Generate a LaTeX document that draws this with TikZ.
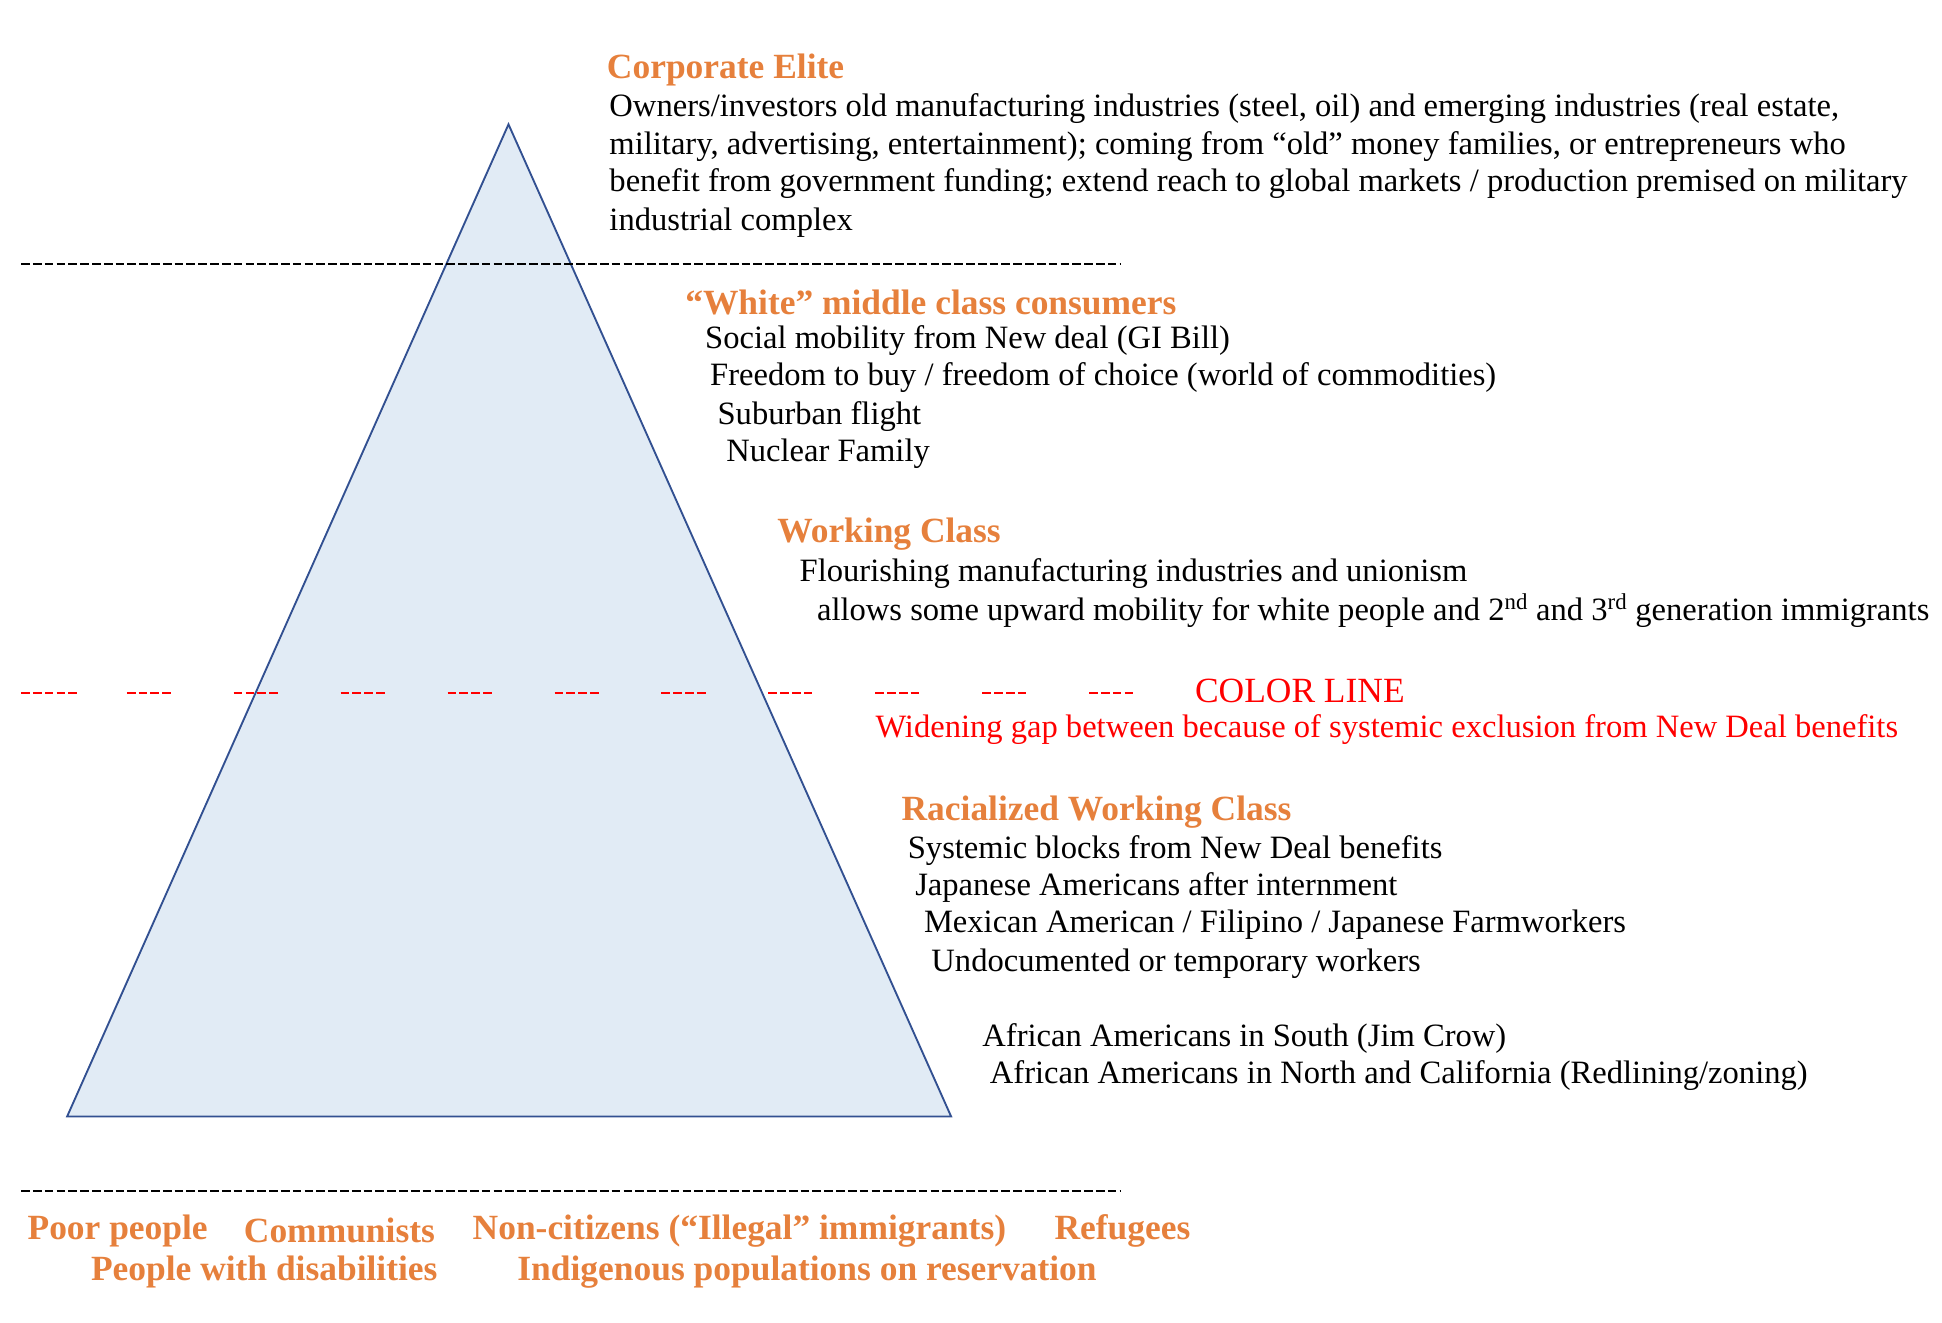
\documentclass[tikz,border=0pt]{standalone}
\usepackage{fontspec}
\setmainfont{Liberation Serif}
\definecolor{org}{RGB}{230,128,60}
\definecolor{tri}{RGB}{225,235,245}
\definecolor{triline}{RGB}{50,80,145}
\begin{document}
\begin{tikzpicture}[x=1pt,y=-1pt,
  body/.style={anchor=west,inner sep=0pt,font=\fontsize{26.2}{30}\selectfont},
  head/.style={anchor=west,inner sep=0pt,font=\fontsize{28.5}{32}\selectfont\bfseries,text=org},
  redt/.style={anchor=west,inner sep=0pt,font=\fontsize{26.2}{30}\selectfont,text=red},
  blk/.style={black,line width=1.6pt,dash pattern=on 7pt off 2.5pt},
  rdash/.style={red,line width=1.6pt,dash pattern=on 7pt off 2.5pt}]
\useasboundingbox (0,0) rectangle (1562,1064);
\coordinate (ap) at (409,100); \coordinate (bl) at (54,898); \coordinate (br) at (765,898);
\draw[fill=tri,draw=triline,line width=1.5pt] (ap) -- (bl) -- (br) -- cycle;
\coordinate (t1) at (17,212); \coordinate (t2) at (902,212);
\draw[blk] (t1) -- (t2);
\coordinate (b1) at (17,958); \coordinate (b2) at (902,958);
\draw[blk] (b1) -- (b2);
\foreach \a/\b in {17/62,102/138,188/224,274/310,360/396,446/482,532/568,618/655,704/740,790/826,876/912}
  \draw[rdash] (\a,557) -- (\b,557);
\node[head] (ce) at (488,56) {Corporate Elite};
\node[body] (ce1) at (490,87) {Owners/investors old manufacturing industries (steel, oil) and emerging industries (real estate,};
\node[body] (ce2) at (490,118) {military, advertising, entertainment); coming from “old” money families, or entrepreneurs who};
\node[body] (ce3) at (490,148) {benefit from government funding; extend reach to global markets / production premised on military};
\node[body] (ce4) at (490,179) {industrial complex};
\node[head] (wm) at (551,243) {“White” middle class consumers};
\node[body] (wm1) at (567,274) {Social mobility from New deal (GI Bill)};
\node[body] (wm2) at (571,304) {Freedom to buy / freedom of choice (world of commodities)};
\node[body] (wm3) at (577,335) {Suburban flight};
\node[body] (wm4) at (584,365) {Nuclear Family};
\node[head] (wc) at (625,430) {Working Class};
\node[body] (wc1) at (643,461) {Flourishing manufacturing industries and unionism};
\node[body] (wc2) at (657,491) {allows some upward mobility for white people and 2\textsuperscript{nd} and 3\textsuperscript{rd} generation immigrants};
\node[redt,font=\fontsize{28.5}{32}\selectfont] (cl) at (961,556) {COLOR LINE};
\node[redt] (cl1) at (704,587) {Widening gap between because of systemic exclusion from New Deal benefits};
\node[head] (rw) at (725,653) {Racialized Working Class};
\node[body] (rw1) at (730,684) {Systemic blocks from New Deal benefits};
\node[body] (rw2) at (736,714) {Japanese Americans after internment};
\node[body] (rw3) at (743,744) {Mexican American / Filipino / Japanese Farmworkers};
\node[body] (rw4) at (749,775) {Undocumented or temporary workers};
\node[body] (rw5) at (790,835) {African Americans in South (Jim Crow)};
\node[body] (rw6) at (796,865) {African Americans in North and California (Redlining/zoning)};
\node[head] (p1) at (22,990) {Poor people};
\node[head] (p2) at (196,990) {Communists};
\node[head] (p3) at (380,990) {Non-citizens (“Illegal” immigrants)};
\node[head] (p4) at (848,990) {Refugees};
\node[head] (p5) at (73,1023) {People with disabilities};
\node[head] (p6) at (416,1023) {Indigenous populations on reservation};
\end{tikzpicture}
\end{document}
